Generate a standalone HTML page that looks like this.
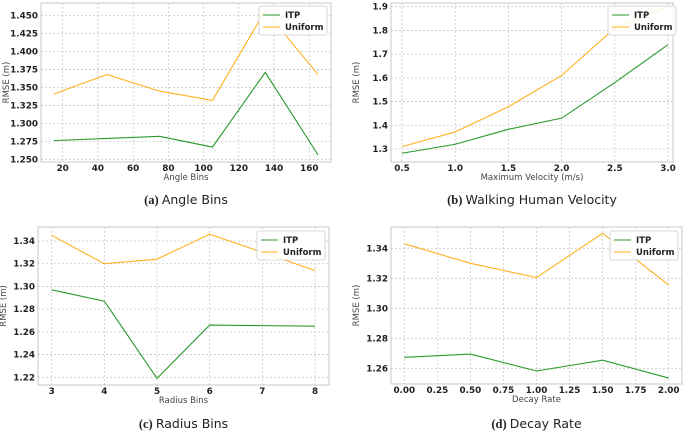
<!DOCTYPE html>
<html><head><meta charset="utf-8"><style>
body{margin:0;background:#fff;width:685px;height:434px;overflow:hidden}
svg{display:block}
.tk{font-family:"DejaVu Sans",sans-serif;font-weight:bold;font-size:8.8px;fill:#222}
.al{font-family:"DejaVu Sans",sans-serif;font-size:8.5px;fill:#444}
.cap{font-family:"DejaVu Sans",sans-serif;font-size:12.5px;fill:#222}
.capb{font-family:"Liberation Serif",serif;font-weight:bold;font-size:12.5px;fill:#222}
.lg{font-family:"DejaVu Sans",sans-serif;font-weight:bold;font-size:8.5px;fill:#222}
</style></head><body>
<svg id="s" width="685" height="434" xmlns="http://www.w3.org/2000/svg"></svg>
<script>
// Panel a
const aX=[15,45,75,105,135,165];
const aITP=[1.276,1.279,1.282,1.267,1.371,1.256];
const aUni=[1.341,1.368,1.345,1.332,1.457,1.368];
const aXT=[20,40,60,80,100,120,140,160];
const aYT=[1.250,1.275,1.300,1.325,1.350,1.375,1.400,1.425,1.450];
// Panel b
const bX=[0.5,1.0,1.5,2.0,2.5,3.0];
const bITP=[1.282,1.32,1.383,1.43,1.58,1.74];
const bUni=[1.31,1.372,1.478,1.61,1.81,1.9];
const bXT=[0.5,1.0,1.5,2.0,2.5,3.0];
const bYT=[1.3,1.4,1.5,1.6,1.7,1.8,1.9];
// Panel c
const cX=[3,4,5,6,7,8];
const cITP=[1.297,1.287,1.219,1.266,1.2655,1.265];
const cUni=[1.345,1.320,1.324,1.346,1.330,1.314];
const cXT=[3,4,5,6,7,8];
const cYT=[1.22,1.24,1.26,1.28,1.30,1.32,1.34];
// Panel d
const dX=[0,0.5,1.0,1.5,2.0];
const dITP=[1.2673,1.2695,1.2582,1.2654,1.2535];
const dUni=[1.343,1.330,1.3205,1.350,1.3155];
const dXT=[0,0.25,0.5,0.75,1.0,1.25,1.5,1.75,2.0];
const dYT=[1.26,1.28,1.30,1.32,1.34];

const NS="http://www.w3.org/2000/svg";
const svg=document.getElementById('s');
function mk(tag,at,parent){const e=document.createElementNS(NS,tag);for(const k in at)e.setAttribute(k,at[k]);(parent||svg).appendChild(e);return e;}

function panel(id,box,xs,itp,uni,xt,yt,xdec,ydec,xl,xm,yl,ym,xlabel,capL,capR,capY,leg){
  const g=mk('g',{});
  
  
  const X=v=>xl[1]+(v-xl[0])*(xm[1]-xl[1])/(xm[0]-xl[0]);
  const Y=v=>yl[1]+(v-yl[0])*(ym[1]-yl[1])/(ym[0]-yl[0]);
  const [x0,y0,x1,y1]=box;
  xt.forEach(v=>{const x=X(v);
    const l=mk('line',{x1:x,x2:x,y1:y0,y2:y1,stroke:'#c8c8c8','stroke-dasharray':'2,2','stroke-width':0.8},g);
    
    const t=mk('text',{x:x,y:y1+9,'text-anchor':'middle',class:'tk'},g);t.textContent=v.toFixed(xdec);
    });
  yt.forEach(v=>{const y=Y(v);
    const l=mk('line',{x1:x0,x2:x1,y1:y,y2:y,stroke:'#c8c8c8','stroke-dasharray':'2,2','stroke-width':0.8},g);
    
    const t=mk('text',{x:x0-3,y:y+3,'text-anchor':'end',class:'tk'},g);t.textContent=v.toFixed(ydec);
    });
  const cp=mk('clipPath',{id:'cp'+id},g);mk('rect',{x:x0,y:y0,width:x1-x0,height:y1-y0},cp);
  [[uni,'#ffb020','uniform-line'],[itp,'#2a9a2a','itp-line']].forEach(([d,c,n])=>{
    const p=mk('polyline',{points:xs.map((v,i)=>X(v)+','+Y(d[i])).join(' '),fill:'none',stroke:c,'stroke-width':1.1,'clip-path':'url(#cp'+id+')'},g);
    });
  const fr=mk('rect',{x:x0,y:y0,width:x1-x0,height:y1-y0,fill:'none',stroke:'#bbb','stroke-width':0.8},g);
  
  const xa=mk('text',{x:(x0+x1)/2,y:y1+18,'text-anchor':'middle',class:'al'},g);xa.textContent=xlabel;
  
  const ya=mk('text',{x:0,y:0,'text-anchor':'middle',class:'al',transform:`translate(${x0-32},${(y0+y1)/2}) rotate(-90)`},g);ya.textContent='RMSE (m)';
  
  const [lx,ly]=leg;
  const lg=mk('g',{},g);
  mk('rect',{x:lx,y:ly,width:68,height:29,rx:2,fill:'#fff','fill-opacity':0.85,stroke:'#ccc','stroke-width':0.8},lg);
  [['ITP','#2a9a2a'],['Uniform','#ffb020']].forEach(([n,c],i)=>{
    const e=mk('g',{},lg);
    mk('line',{x1:lx+4,x2:lx+21,y1:ly+9+i*12,y2:ly+9+i*12,stroke:c,'stroke-width':1.1},e);
    const t=mk('text',{x:lx+26,y:ly+12+i*12,class:'lg'},e);t.textContent=n;});
  const ct=mk('text',{x:(x0+x1)/2,y:capY,'text-anchor':'middle'},g);
  
  const b=mk('tspan',{class:'capb'},ct);b.textContent=capL+' ';
  const r=mk('tspan',{class:'cap'},ct);r.textContent=capR;
}
panel('a',[41,3,331,162],aX,aITP,aUni,aXT,aYT,0,3,[20,62.7],[160,309.3],[1.250,159.3],[1.450,15.7],'Angle Bins','(a)','Angle Bins',204,[259,6]);
panel('b',[391,3,673,162],bX,bITP,bUni,bXT,bYT,1,1,[0.5,402],[3.0,668],[1.3,149],[1.9,6.7],'Maximum Velocity (m/s)','(b)','Walking Human Velocity',204,[608,6]);
panel('c',[38,227,329,385],cX,cITP,cUni,cXT,cYT,0,2,[3,51.7],[8,315],[1.22,377.3],[1.34,241],'Radius Bins','(c)','Radius Bins',428,[257,231]);
panel('d',[391,227,682,384],dX,dITP,dUni,dXT,dYT,2,2,[0,404.3],[2.0,668.7],[1.26,368.3],[1.34,248.3],'Decay Rate','(d)','Decay Rate',428,[610,231]);
</script>
</body></html>
